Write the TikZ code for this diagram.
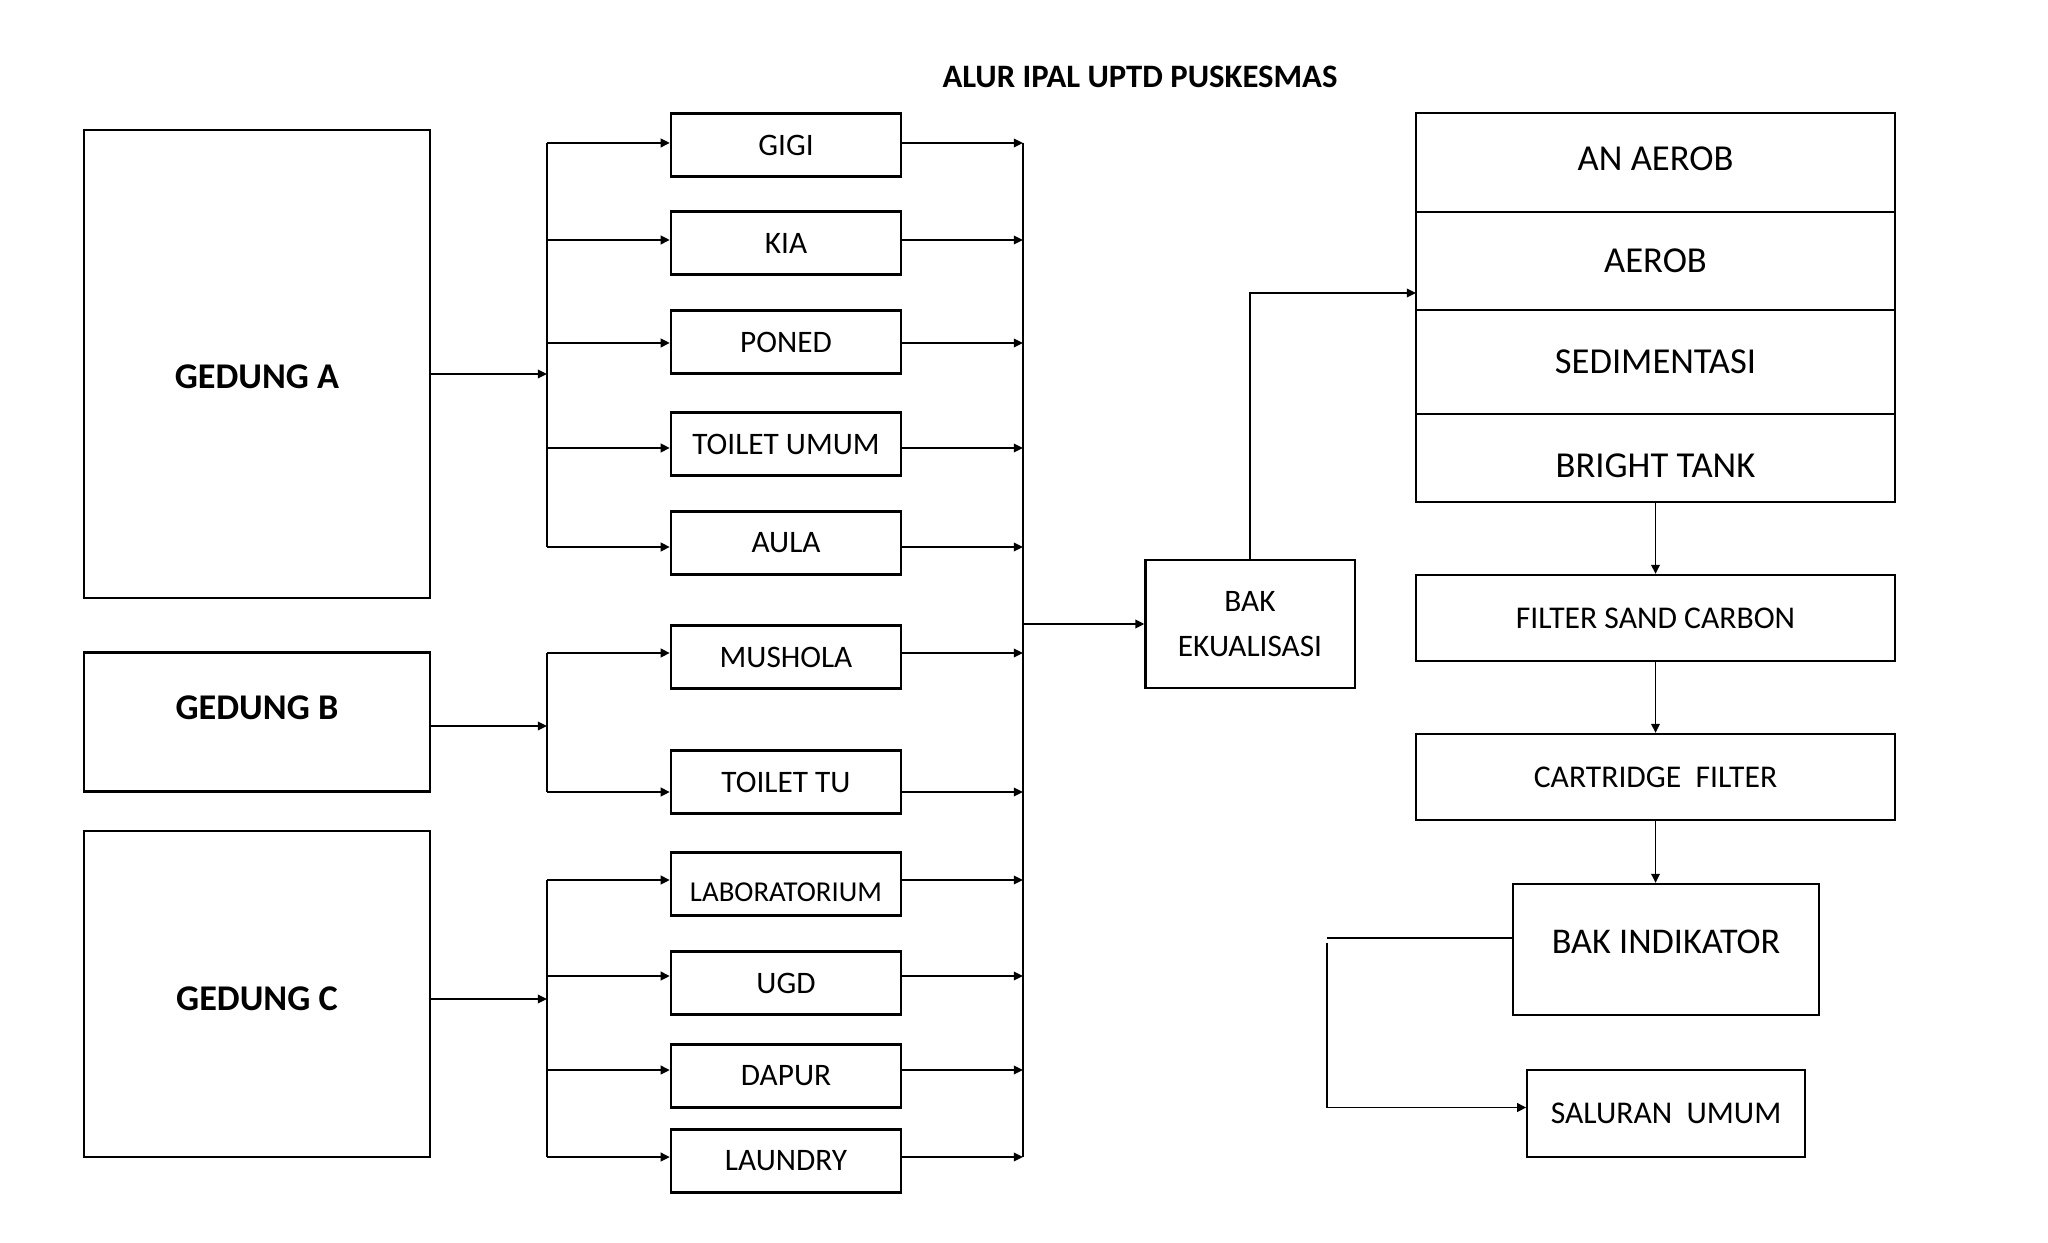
\documentclass[tikz,border=0pt]{standalone}
\usepackage{fontspec}
\setmainfont{Carlito}
\usetikzlibrary{arrows.meta,positioning,calc}
\tikzset{
  garis/.style={line width=0.55pt},
  panah/.style={garis,-{Triangle[length=2.6pt,width=2.4pt]}},
  kotak/.style={draw,line width=0.6pt,inner sep=0pt,align=center},
  ruang/.style={kotak,minimum width=2.30cm,minimum height=0.63cm,font=\fontsize{8.9}{11}\selectfont},
  gedung/.style={kotak,minimum width=3.46cm,font=\fontsize{10.3}{12}\selectfont\bfseries},
  tahap/.style={kotak,outer sep=0pt,minimum width=4.79cm,font=\fontsize{10.4}{12}\selectfont},
  saring/.style={kotak,minimum width=4.79cm,minimum height=0.86cm,font=\fontsize{9}{11}\selectfont},
  judul/.style={font=\fontsize{9.3}{11}\selectfont\bfseries},
}

\begin{document}
\begin{tikzpicture}[x=0.01cm,y=-0.01cm]
        \useasboundingbox (0,0) rectangle (2048,1243);
        \node[judul] (jdl) at (1140,77) {ALUR IPAL UPTD PUSKESMAS};
        % --- gedung ---
        \node[gedung,minimum height=4.67cm,text height=13.9pt] (gedA) at (257,364) {GEDUNG A};
        \node[gedung,minimum height=1.39cm] (gedB) at (257,722) {\raisebox{8pt}{GEDUNG B}};
        \node[gedung,minimum height=3.25cm,text height=9.4pt] (gedC) at (257,994) {GEDUNG C};
        % --- ruangan: nama/teks/y tengah/y panah ---
        \foreach \nm/\txt/\yc/\ya in {gigi/GIGI/145/143, kia/KIA/243/240, poned/PONED/342/343,
            tumum/TOILET UMUM/444/448, aula/AULA/543/547, mushola/MUSHOLA/657/653,
            ttu/TOILET TU/782/792, ugd/UGD/983/976, dapur/DAPUR/1076/1070, laundry/LAUNDRY/1161/1157}{
          \node[ruang] (\nm) at (786,\yc) {\txt};
          \coordinate (\nm-ki) at (547,\ya);
          \coordinate (\nm-ka) at (1023,\ya);
        }
        \node[ruang,text height=9.8pt,font=\fontsize{8.2}{10}\selectfont] (lab) at (786,884) {LABORATORIUM};
        \coordinate (lab-ki) at (547,880);
        \coordinate (lab-ka) at (1023,880);
        % panah masuk dan keluar ruangan
        \foreach \nm in {gigi,kia,poned,tumum,aula,mushola,ttu,lab,ugd,dapur,laundry}{
          \draw[panah] (\nm-ki) -- (\nm.west |- \nm-ki);
          \draw[panah] (\nm.east |- \nm-ka) -- (\nm-ka);
        }
        % jalur pembagi
        \draw[garis] (gigi-ki) -- (aula-ki);
        \draw[garis] (mushola-ki) -- (ttu-ki);
        \draw[garis] (lab-ki) -- (laundry-ki);
        \draw[garis] (gigi-ka) -- (laundry-ka);
        \draw[panah] ([yshift=-0.10cm]gedA.east) -- ([yshift=-0.10cm]gedA.east -| gigi-ki);
        \draw[panah] ([yshift=-0.04cm]gedB.east) -- ([yshift=-0.04cm]gedB.east -| gigi-ki);
        \draw[panah] ([yshift=-0.05cm]gedC.east) -- ([yshift=-0.05cm]gedC.east -| gigi-ki);
        % --- pengolahan ---
        \node[kotak,minimum width=2.09cm,minimum height=1.28cm,font=\fontsize{8.9}{13}\selectfont] (bakek) at (1250,624) {BAK\\EKUALISASI};
        \draw[panah] (gigi-ka |- bakek.west) -- (bakek.west);
        \node[tahap,minimum height=0.99cm] (anaerob) at (1655.5,162.5) {\raisebox{2.3pt}{AN AEROB}};
        \node[tahap,minimum height=0.98cm,below=0pt of anaerob] (aerob) {AEROB};
        \node[tahap,minimum height=1.04cm,below=0pt of aerob] (sedimen) {SEDIMENTASI};
        \node[tahap,minimum height=0.88cm,text height=11.2pt,below=0pt of sedimen] (bright) {BRIGHT TANK};
        \coordinate (masuk) at (1416,293);
        \draw[panah] (bakek.north) |- (masuk);
        \node[saring] (filter) at (1655.5,618) {FILTER SAND CARBON};
        \node[saring] (cartridge) at (1655.5,777) {CARTRIDGE\ \ FILTER};
        \draw[panah] (bright.south) -- (filter.north);
        \draw[panah] (filter.south) -- (cartridge.north);
        \node[kotak,minimum width=3.06cm,minimum height=1.31cm,font=\fontsize{10.3}{12}\selectfont] (bakind) at (1666,949.5) {\raisebox{4.6pt}{BAK INDIKATOR}};
        \draw[panah] (cartridge.south) -- (cartridge.south |- bakind.north);
        \node[kotak,minimum width=2.77cm,minimum height=0.87cm,font=\fontsize{9}{11}\selectfont] (saluran) at (1666,1113.5) {SALURAN\ \ UMUM};
        % buangan ke saluran umum
        \coordinate (sudut) at (1327,938);
        \coordinate (turun) at (1327,943);
        \draw[garis] (bakind.west |- sudut) -- (sudut);
        \draw[panah] (turun) |- ([yshift=0.06cm]saluran.west);
      \end{tikzpicture}
\end{document}
